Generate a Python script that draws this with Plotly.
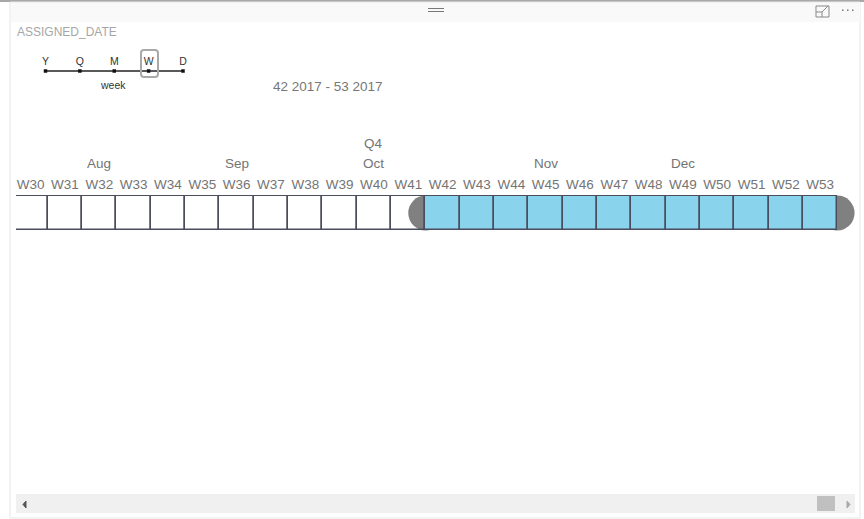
"""Timeline slicer: week cells with the selected range shaded."""

import plotly.graph_objects as go

W, H = 864, 519
_FONT = "Liberation Sans, Arial, sans-serif"
_TXT = "#747474"
_EDGE = "#4a4d5c"

weeks = [f"W{n}" for n in range(30, 54)]
cells = [1] * len(weeks)
selected = [f"W{n}" for n in range(42, 54)]
months = ["Aug", "Sep", "Oct", "Nov", "Dec"]
month_weeks = ["W32", "W36", "W40", "W45", "W49"]
quarters = ["Q4"]
quarter_weeks = ["W40"]
levels = ["Y", "Q", "M", "W", "D"]
level_on = [1, 1, 1, 1, 1]
range_label = "42 2017 - 53 2017"


def px(x):
    return x / W


def py(y):
    return 1 - y / H


def box(x0, y0, x1, y1, fill, line=None):
    return dict(
        type="rect", xref="paper", yref="paper", layer="below",
        x0=px(x0), x1=px(x1), y0=py(y0), y1=py(y1),
        fillcolor=fill, line=dict(color=line or fill, width=1 if line else 0),
    )


def path(d, fill="rgba(0,0,0,0)", color="#666", width=1):
    return dict(
        type="path", xref="paper", yref="paper", layer="above", path=d,
        fillcolor=fill, line=dict(color=color, width=width),
    )


def pts(*xy):
    return " ".join(
        f"{'M' if i == 0 else 'L'}{px(x):.5f},{py(y):.5f}" for i, (x, y) in enumerate(xy)
    )


def label(text, x, y, size, color=_TXT, xanchor="center"):
    return dict(
        text=text, x=px(x), y=py(y), xref="paper", yref="paper", showarrow=False,
        xanchor=xanchor, yanchor="middle", font=dict(family=_FONT, size=size, color=color),
    )


fig = go.Figure()
fig.add_trace(go.Bar(
    x=weeks, y=cells, width=1,
    marker=dict(
        color=["#8ad3ec" if w in selected else "rgba(0,0,0,0)" for w in weeks],
        line=dict(color=_EDGE, width=1.5),
    ),
    hoverinfo="x",
))
fig.add_trace(go.Scatter(
    x=levels, y=level_on, mode="lines+markers+text", xaxis="x2", yaxis="y2",
    text=levels, textposition="top center",
    textfont=dict(family=_FONT, size=10.5, color="#333"),
    marker=dict(color="#111", size=3.5, symbol="square"),
    line=dict(color="#222", width=1.3),
    cliponaxis=False, hoverinfo="skip",
))

shapes = [
    # report panel
    box(0, 0, W, 2, "#a8a8a8"),
    box(10, 2, 860, 518, "#ffffff", "#e6e6e6"),
    box(11, 3, 860, 22, "#f9f9f9"),
    # scrollbar
    box(16, 494, 855, 513, "#f0f0f0"),
    box(817, 496, 835, 511, "#c0c0c0"),
    # range handles sit under the cells
    dict(type="circle", xref="x", yref="paper", layer="below",
         x0=11, x1=12, y0=py(230.5), y1=py(195.5),
         fillcolor="#808080", line=dict(width=0)),
    dict(type="circle", xref="x", yref="paper", layer="below",
         x0=23, x1=24, y0=py(230.5), y1=py(195.5),
         fillcolor="#808080", line=dict(width=0)),
    # scrollbar arrows
    path(pts((26, 501), (26, 508), (23, 504.5)) + " Z", fill="#555", color="#555"),
    path(pts((847, 501), (847, 508), (850, 504.5)) + " Z", fill="#aaa", color="#aaa"),
    # grip and header icons
    path(pts((428, 8.5), (444, 8.5)), color="#777"),
    path(pts((428, 11.5), (444, 11.5)), color="#777"),
    path(pts((816, 6), (829, 6), (829, 17), (816, 17)) + " Z", color="#888"),
    path(pts((816, 12), (822, 12), (822, 17)), color="#888"),
    path(pts((822, 12), (828, 6)), color="#888"),
    # selected level marker
    path(
        f"M{px(144):.5f},{py(50):.5f} L{px(155):.5f},{py(50):.5f} "
        f"Q{px(158):.5f},{py(50):.5f} {px(158):.5f},{py(53):.5f} "
        f"L{px(158):.5f},{py(74):.5f} Q{px(158):.5f},{py(77):.5f} {px(155):.5f},{py(77):.5f} "
        f"L{px(144):.5f},{py(77):.5f} Q{px(141):.5f},{py(77):.5f} {px(141):.5f},{py(74):.5f} "
        f"L{px(141):.5f},{py(53):.5f} Q{px(141):.5f},{py(50):.5f} {px(144):.5f},{py(50):.5f} Z",
        color="#a9a9a9", width=2,
    ),
]
for x in (842, 847, 852):
    shapes.append(box(x, 9.5, x + 1.5, 11, "#777"))

annotations = [
    label("ASSIGNED_DATE", 14.5, 32, 12, "#a6a6a6", "left"),
    label("week", 113, 84.5, 10.5, "#333"),
    label(range_label, 328, 87, 13.5, "#777"),
]
for name, wk in zip(months, month_weeks):
    annotations.append(dict(
        text=name, x=wk, y=py(163), xref="x", yref="paper", showarrow=False,
        yanchor="middle", font=dict(family=_FONT, size=13.5, color=_TXT),
    ))
for name, wk in zip(quarters, quarter_weeks):
    annotations.append(dict(
        text=name, x=wk, y=py(143), xref="x", yref="paper", showarrow=False,
        yanchor="middle", font=dict(family=_FONT, size=13.5, color=_TXT),
    ))

fig.update_layout(
    width=W, height=H,
    margin=dict(l=0, r=0, t=0, b=0),
    paper_bgcolor="white", plot_bgcolor="rgba(0,0,0,0)",
    showlegend=False, bargap=0,
    xaxis=dict(
        type="category", categoryorder="array", categoryarray=weeks,
        domain=[px(16), 1], range=[-0.427, 24.275], side="top",
        showgrid=False, zeroline=False, showline=False, ticks="",
        tickfont=dict(family=_FONT, size=13.5, color=_TXT), tickangle=0,
        ticklabelstandoff=2,
    ),
    yaxis=dict(
        domain=[py(231.5), py(195)], range=[-0.03, 1.03],
        visible=False, fixedrange=True,
    ),
    xaxis2=dict(
        type="category", categoryorder="array", categoryarray=levels,
        domain=[px(45.5), px(183)], range=[0, 4], anchor="y2",
        visible=False,
    ),
    yaxis2=dict(
        domain=[py(76), py(66)], range=[0, 2], anchor="x2",
        visible=False, fixedrange=True,
    ),
    shapes=shapes,
    annotations=annotations,
    hovermode="closest",
)

fig.write_html(
    "out.html",
    config={"displayModeBar": False},
    post_script="document.body.style.margin='0';document.body.style.overflow='hidden';",
)
